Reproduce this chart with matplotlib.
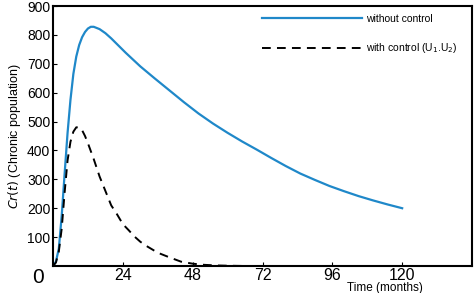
import matplotlib
matplotlib.use("Agg")
import matplotlib.pyplot as plt

plt.rcParams['font.family'] = ['Liberation Sans', 'DejaVu Sans']

# Data
t_without = [0, 1, 2, 3, 4, 5, 6, 7, 8, 9, 10, 11, 12, 13, 14, 16, 18, 20, 22, 25,
             30, 35, 40, 45, 50, 55, 60, 65, 70, 75, 80, 85, 90, 95, 100, 105, 110, 115, 120]
cr_without = [0, 15, 60, 175, 320, 460, 575, 665, 725, 765, 792, 810, 822, 828, 828, 820, 806, 788, 768, 738,
              691, 649, 608, 567, 528, 493, 461, 431, 403, 374, 346, 320, 298, 277, 259, 242, 227, 213, 200]

t_with = [0, 1, 2, 3, 4, 5, 6, 7, 8, 9, 10, 11, 12, 14, 16, 18, 20, 22, 24, 26, 28, 30,
          32, 36, 40, 44, 48, 52, 56, 60, 66, 72]
cr_with = [0, 12, 50, 130, 255, 365, 430, 465, 480, 480, 470, 450, 425, 370, 310, 260, 210, 179, 145, 124, 102, 84,
           70, 46, 30, 15, 8, 4, 2, 1, 0, 0]

x_ticks = [24, 48, 72, 96, 120]
y_ticks = [100, 200, 300, 400, 500, 600, 700, 800, 900]

fig = plt.figure(figsize=(4.74, 2.93), dpi=100)
ax = fig.add_axes([53/474, 1-266/293, (472-53)/474, (266-6)/293])

ax.plot(t_without, cr_without, color='#1f88c9', lw=1.6, label='without control')
ax.plot(t_with, cr_with, color='black', lw=1.4, linestyle=(0, (4.5, 3.2)),
        label='with control (U$_1$.U$_2$)')

ax.set_xlim(0, 144)
ax.set_ylim(0, 900)
ax.set_xticks(x_ticks)
ax.set_yticks(y_ticks)
ax.set_xticklabels([str(v) for v in x_ticks], fontsize=11.5)
ax.set_yticklabels([str(v) for v in y_ticks], fontsize=10)
ax.tick_params(axis='both', direction='in', length=3, width=0.8, pad=2)
ax.tick_params(axis='x', pad=1.5)
for s in ax.spines.values():
    s.set_linewidth(1.5)

ax.annotate('0', xy=(0, 0), xycoords='data', xytext=(-11, -8), textcoords='offset points',
            fontsize=15, ha='center', va='center', annotation_clip=False)

ax.set_ylabel('$\\mathit{Cr}(\\mathit{t})$ (Chronic population)', fontsize=9, labelpad=3)
fig.text(347/474, 1-291.5/293, 'Time (months)', fontsize=8.5, ha='left', va='baseline')

leg = ax.legend(loc='upper left', bbox_to_anchor=(0.49, 0.985), frameon=False,
                fontsize=7.5, handlelength=9.6, handletextpad=0.3, labelspacing=1.65,
                borderaxespad=0)

fig.savefig('out.png', dpi=100)
